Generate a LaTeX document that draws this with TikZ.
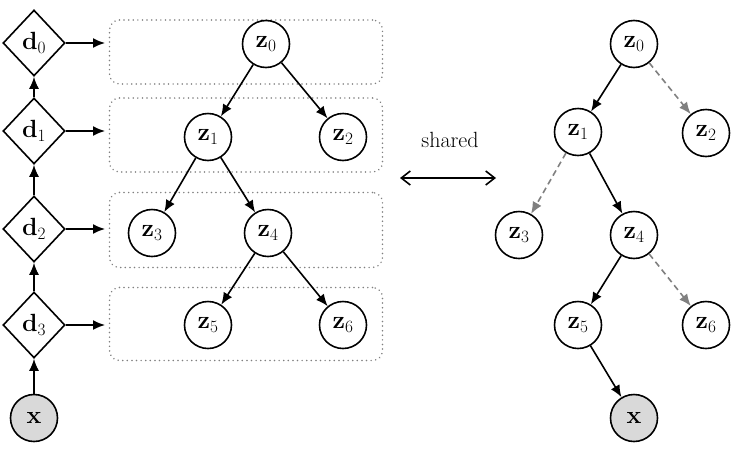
\documentclass[tikz,border=0pt]{standalone}
\usetikzlibrary{shapes.geometric,arrows.meta}
\begin{document}
\begin{tikzpicture}[x=1pt,y=-1pt,
  c/.style={circle,draw,line width=1.6pt,minimum size=47pt,inner sep=0pt,font=\fontsize{27}{29}\selectfont},
  d/.style={diamond,draw,line width=1.6pt,minimum width=62pt,minimum height=66pt,inner sep=0pt,font=\fontsize{27}{29}\selectfont},
  a/.style={-{Latex[length=12pt,width=10pt]},line width=1.6pt},
  g/.style={-{Latex[length=12pt,width=10pt]},line width=1.6pt,dash pattern=on 6pt off 4pt,gray},
  box/.style={draw,gray,line width=1.6pt,dash pattern=on 0.1pt off 4.5pt,line cap=round,rounded corners=10pt}]
\useasboundingbox (0,0) rectangle (735,453);
\node[d] (d0) at (34,43) {$\mathbf{d}_0$};
\node[d] (d1) at (34,131) {$\mathbf{d}_1$};
\node[d] (d2) at (34,229) {$\mathbf{d}_2$};
\node[d] (d3) at (34,325) {$\mathbf{d}_3$};
\node[c,fill=gray!30] (x) at (34,418) {$\mathbf{x}$};
\draw[a] (x)--(d3); \draw[a] (d3)--(d2); \draw[a] (d2)--(d1); \draw[a] (d1)--(d0);
\node[box,minimum width=273pt,minimum height=64pt] (b0) at (246,52) {};
\node[box,minimum width=273pt,minimum height=74pt] (b1) at (246,135) {};
\node[box,minimum width=273pt,minimum height=75pt] (b2) at (246,230) {};
\node[box,minimum width=273pt,minimum height=73pt] (b3) at (246,324) {};
\coordinate (e0) at (105,43); \coordinate (e1) at (105,131);
\coordinate (e2) at (105,229); \coordinate (e3) at (105,325);
\draw[a] (d0)--(e0); \draw[a] (d1)--(e1); \draw[a] (d2)--(e2); \draw[a] (d3)--(e3);
\node[c] (z0) at (266,44) {$\mathbf{z}_0$};
\node[c] (z1) at (208,137) {$\mathbf{z}_1$};
\node[c] (z2) at (343,137) {$\mathbf{z}_2$};
\node[c] (z3) at (152,233) {$\mathbf{z}_3$};
\node[c] (z4) at (268,233) {$\mathbf{z}_4$};
\node[c] (z5) at (208,325) {$\mathbf{z}_5$};
\node[c] (z6) at (343,325) {$\mathbf{z}_6$};
\draw[a] (z0)--(z1); \draw[a] (z0)--(z2); \draw[a] (z1)--(z3); \draw[a] (z1)--(z4);
\draw[a] (z4)--(z5); \draw[a] (z4)--(z6);
\node[font=\fontsize{22}{24}\selectfont] (sh) at (450,140) {shared};
\coordinate (s1) at (400,178); \coordinate (s2) at (496,178);
\draw[{Straight Barb[length=9pt,width=14pt]}-{Straight Barb[length=9pt,width=14pt]},line width=1.6pt] (s1)--(s2);
\node[c] (r0) at (634,44) {$\mathbf{z}_0$};
\node[c] (r1) at (578,132) {$\mathbf{z}_1$};
\node[c] (r2) at (706,133) {$\mathbf{z}_2$};
\node[c] (r3) at (519,235) {$\mathbf{z}_3$};
\node[c] (r4) at (634,235) {$\mathbf{z}_4$};
\node[c] (r5) at (578,325) {$\mathbf{z}_5$};
\node[c] (r6) at (706,325) {$\mathbf{z}_6$};
\node[c,fill=gray!30] (rx) at (634,418) {$\mathbf{x}$};
\draw[a] (r0)--(r1); \draw[g] (r0)--(r2); \draw[g] (r1)--(r3); \draw[a] (r1)--(r4);
\draw[a] (r4)--(r5); \draw[g] (r4)--(r6); \draw[a] (r5)--(rx);
\end{tikzpicture}
\end{document}
